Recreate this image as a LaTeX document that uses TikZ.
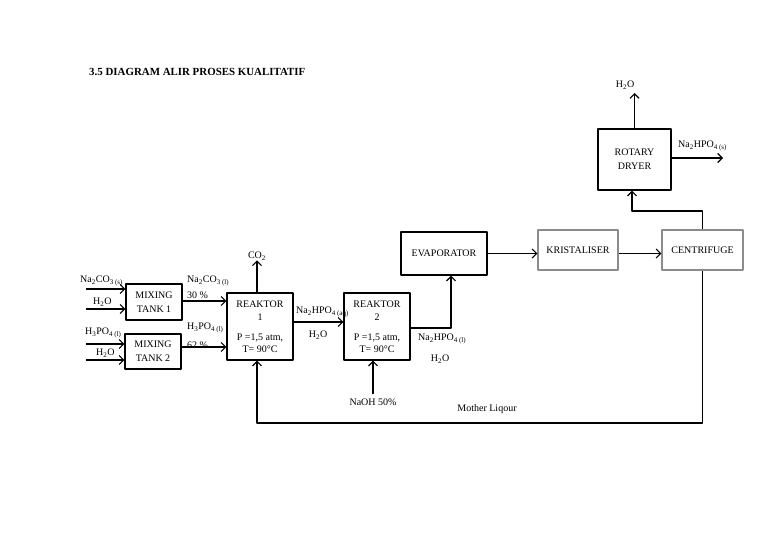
\documentclass[tikz,border=0pt]{standalone}
\usepackage{fontspec}
\setmainfont{Liberation Serif}
\usetikzlibrary{arrows.meta,positioning}

\begin{document}
\begin{tikzpicture}[x=1pt,y=-1pt,line join=round,>={Straight Barb[length=4.5pt,width=9pt]},
  font=\fontsize{10}{11}\selectfont]
\tikzset{unit/.style={draw,line width=1.1pt,inner sep=0pt,align=center},
  greyunit/.style={unit,draw=black!45},
  lbl/.style={inner sep=0pt},
  flow/.style={->,line width=1.2pt}}
\useasboundingbox (0,0) rectangle (768,543);
% judul
\node[lbl,anchor=west,font=\bfseries\fontsize{10.9}{12}\selectfont] (judul) at (89,72) {3.5 DIAGRAM ALIR PROSES KUALITATIF};
% unit proses
\node[unit,minimum width=56,minimum height=36] (mix1) at (154,302) {MIXING\\[3pt]TANK 1};
\node[unit,minimum width=56,minimum height=35] (mix2) at (153,351.5) {MIXING\\[3pt]TANK 2};
\node[unit,minimum width=66,minimum height=67] (reak1) at (260,326.5) {REAKTOR\\[2pt]1\\[9pt]P =1,5 atm,\\[1pt]T= 90°C};
\node[unit,minimum width=66,minimum height=67] (reak2) at (377,326.5) {REAKTOR\\[2pt]2\\[9pt]P =1,5 atm,\\[1pt]T= 90°C};
\node[unit,minimum width=86,minimum height=43] (evap) at (444,253.5) {EVAPORATOR};
\node[greyunit,minimum width=80,minimum height=40] (krist) at (578,250) {KRISTALISER};
\node[greyunit,minimum width=81,minimum height=40] (cent) at (702.5,250) {CENTRIFUGE};
\node[unit,minimum width=73,minimum height=61] (dryer) at (634.5,159.5) {ROTARY\\[3pt]DRYER};
% umpan mixing tank
\foreach \c/\py/\lx/\ly/\txt in {
  in1/289/80/281/{Na\textsubscript{2}CO\textsubscript{3 (s)}},
  in2/309/93/302/{H\textsubscript{2}O},
  in3/344/85/333/{H\textsubscript{3}PO\textsubscript{4 (l)}},
  in4/360/96/353/{H\textsubscript{2}O}}{
  \coordinate (\c) at (86,\py);
  \node[lbl,anchor=west] (\c t) at (\lx,\ly) {\txt};
}
\draw[flow] (in1) -- (in1 -| mix1.west);
\draw[flow] (in2) -- (in2 -| mix1.west);
\draw[flow] (in3) -- (in3 -| mix2.west);
\draw[flow] (in4) -- (in4 -| mix2.west);
% mixing tank ke reaktor 1
\draw[flow] ([yshift=1pt]mix1.east) -- ([yshift=1pt]mix1.east -| reak1.west);
\draw[flow] ([yshift=4.5pt]mix2.east) -- ([yshift=4.5pt]mix2.east -| reak1.west);
\node[lbl,anchor=west] (na1) at (187,281) {Na\textsubscript{2}CO\textsubscript{3 (l)}};
\node[lbl,anchor=west] (p30) at (187,295.5) {30 \%};
\node[lbl,anchor=west] (hp) at (187,328) {H\textsubscript{3}PO\textsubscript{4 (l)}};
\node[lbl,anchor=west] (p62) at (187,345) {62 \%};
% CO2 keluar
\node[lbl] (co2) at (257,256) {CO\textsubscript{2}};
\draw[flow] ([xshift=-3pt]reak1.north) -- ([xshift=-3pt]reak1.north |- co2.south);
% reaktor 1 ke reaktor 2
\draw[flow] ([yshift=4.5pt]reak1.east) -- ([yshift=4.5pt]reak1.east -| reak2.west);
\node[lbl,anchor=west] (na2) at (296,312) {Na\textsubscript{2}HPO\textsubscript{4 (aq)}};
\node[lbl] (h2a) at (318,335) {H\textsubscript{2}O};
% NaOH
\node[lbl] (naoh) at (373,402) {NaOH 50\%};
\draw[flow,shorten <=4pt] (naoh.north) -- (naoh.north |- reak2.south);
% reaktor 2 ke evaporator
\draw[flow] ([yshift=-1.5pt]reak2.east) -| ([xshift=7pt]evap.south);
\node[lbl,anchor=west] (na3) at (418,339) {Na\textsubscript{2}HPO\textsubscript{4 (l)}};
\node[lbl] (h2b) at (440,359) {H\textsubscript{2}O};
% evaporator - kristaliser - centrifuge
\draw[flow] (evap.east) -- (evap.east -| krist.west);
\draw[flow] (evap.east -| krist.east) -- (evap.east -| cent.west);
% ke rotary dryer
\coordinate (split) at (660,211);
\draw[flow] (cent.north) |- (split) -| ([xshift=-2.5pt]dryer.south);
\node[lbl] (h2c) at (625,85) {H\textsubscript{2}O};
\draw[flow] (dryer.north) -- (dryer.north |- 0,93);
\coordinate (prod) at (723,158);
\draw[flow] (dryer.east |- prod) -- (prod);
\node[lbl,anchor=west] (na4) at (678,146) {Na\textsubscript{2}HPO\textsubscript{4 (s)}};
% mother liquor kembali ke reaktor 1
\coordinate (mlq) at (480,423);
\draw[flow] (cent.south) |- (mlq) -| ([xshift=-3pt]reak1.south);
\node[lbl] (ml) at (487,409) {Mother Liqour};
\end{tikzpicture}
\end{document}
